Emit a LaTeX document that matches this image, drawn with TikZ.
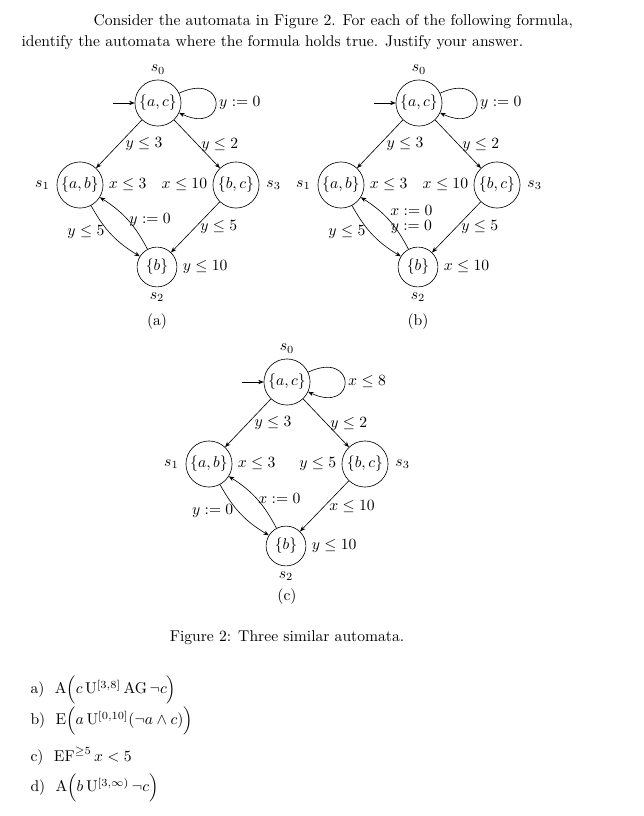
\documentclass[tikz,border=0pt]{standalone}
\usetikzlibrary{arrows.meta,positioning}
\begin{document}
\begin{tikzpicture}[x=0.64pt,y=-0.64pt,
  st/.style={circle,draw,minimum size=29.5pt,inner sep=1pt},
  stb/.style={circle,draw,minimum size=25.5pt,inner sep=1pt},
  tr/.style={-{Stealth[length=3.5pt,width=2.8pt]}},
  lb/.style={inner sep=1pt}]
\useasboundingbox (0,0) rectangle (644,816);
\node[anchor=west] (t1) at (88,22) {Consider the automata in Figure 2. For each of the following formula,};
\node[anchor=west] (t2) at (16,43) {identify the automata where the formula holds true. Justify your answer.};
% generic automaton
\newcommand\drawaut[8]{%
\begin{scope}[shift={(#1)}]
\node[st] (s0#2) at (158,103) {$\{a,c\}$};
\node[st] (s1#2) at (80,185) {$\{a,b\}$};
\node[st] (s3#2) at (236,185) {$\{b,c\}$};
\node[stb] (s2#2) at (157,267) {$\{b\}$};
\node[above=0pt of s0#2] (n0#2) {$s_0$};
\node[left=1pt of s1#2] (n1#2) {$s_1$};
\node[right=1pt of s3#2] (n3#2) {$s_3$};
\node[below=0pt of s2#2] (n2#2) {$s_2$};
\node[right=0pt of s1#2] (i1#2) {$x\le 3$};
\node[left=0pt of s3#2] (i3#2) {#4};
\node[right=0pt of s2#2] (i2#2) {#5};
\coordinate (in#2) at (113,103);
\draw[tr] (in#2) -- (s0#2);
\draw[tr] (s0#2) to[out=25,in=-25,looseness=7] node[right=1pt,lb] {#3} (s0#2);
\draw[tr] (s0#2) -- node[right=3pt,lb,pos=0.5] {$y\le 3$} (s1#2);
\draw[tr] (s0#2) -- node[right=1pt,lb,pos=0.52] {$y\le 2$} (s3#2);
\draw[tr] (s3#2) -- node[right=2pt,lb,pos=0.5] {#6} (s2#2);
\draw[tr] (s1#2) to[bend right=15] node[left=2pt,lb,pos=0.45] {#7} (s2#2);
\draw[tr] (s2#2) to[bend right=15] node[right=0pt,lb,pos=0.5] {#8} (s1#2);
\end{scope}}
\drawaut{0,0}{a}{$y:=0$}{$x\le 10$}{$y\le 10$}{$y\le 5$}{$y\le 5$}{$y:=0$}
\drawaut{261,0}{b}{$y:=0$}{$x\le 10$}{$x\le 10$}{$y\le 5$}{$y\le 5$}{\shortstack{$x:=0$\\$y:=0$}}
\drawaut{129,279}{c}{$x\le 8$}{$y\le 5$}{$y\le 10$}{$x\le 10$}{$y:=0$}{$x:=0$}
\node (ca) at (157,322) {(a)};
\node (cb) at (418,322) {(b)};
\node (cc) at (287,597) {(c)};
\node (fig) at (287,638) {Figure 2: Three similar automata.};
\node[anchor=west] (fa) at (25,690) {a)\ \ $\mathrm{A}\Bigl(c\,\mathrm{U}^{[3,8]}\,\mathrm{AG}\,\neg c\Bigr)$};
\node[anchor=west] (fb) at (25,721) {b)\ \ $\mathrm{E}\Bigl(a\,\mathrm{U}^{[0,10]}(\neg a\wedge c)\Bigr)$};
\node[anchor=west] (fc) at (25,756) {c)\ \ $\mathrm{EF}^{\ge 5}\,x<5$};
\node[anchor=west] (fd) at (25,788) {d)\ \ $\mathrm{A}\Bigl(b\,\mathrm{U}^{[3,\infty)}\,\neg c\Bigr)$};
\end{tikzpicture}
\end{document}
